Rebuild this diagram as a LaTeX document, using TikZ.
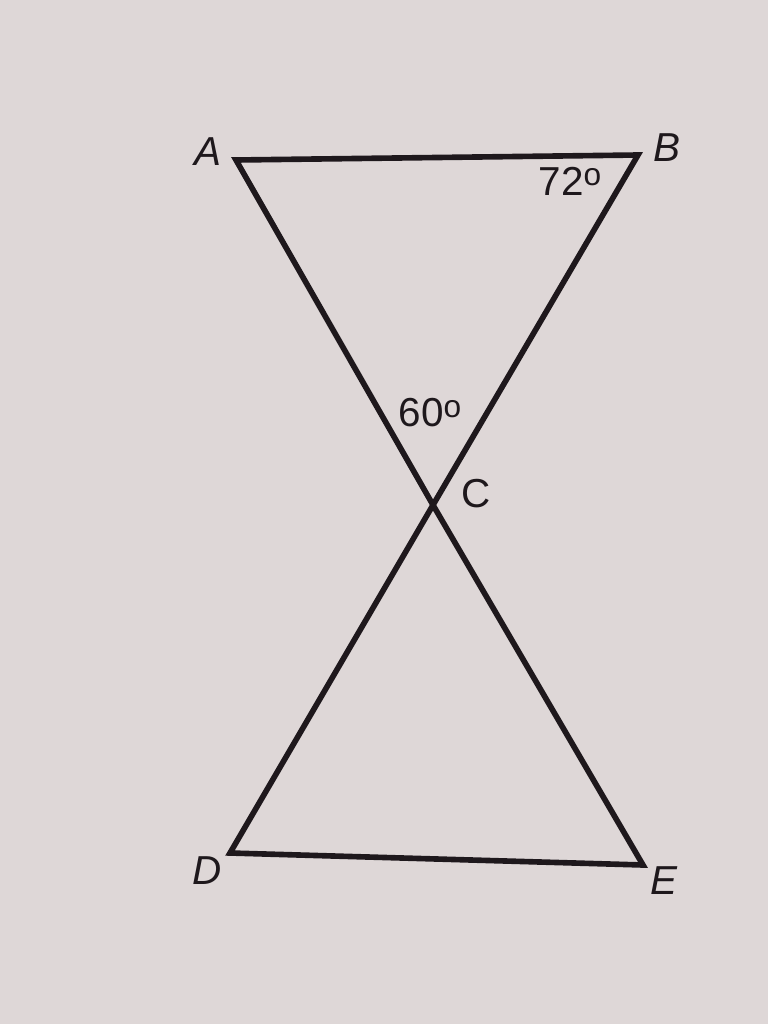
\documentclass[tikz,border=0pt]{standalone}
\usepackage{fontspec}
\setmainfont{Liberation Sans}
\definecolor{paper}{RGB}{222,215,215}
\definecolor{ink}{RGB}{30,24,28}
\newcommand{\dego}{\raisebox{0.45ex}{\fontsize{9}{9}\selectfont o}}
\begin{document}
\begin{tikzpicture}[x=0.01cm,y=-0.01cm,
  line width=1.6pt,
  pt label/.style={font=\fontsize{11.5}{13}\selectfont\itshape,text=ink,inner sep=0pt},
  ang label/.style={font=\fontsize{11.5}{13}\selectfont,text=ink,inner sep=0pt}]

  \fill[paper] (0,0) rectangle (768,1024);
  \useasboundingbox (0,0) rectangle (768,1024);

  \coordinate (A) at (236,160);
  \coordinate (B) at (638,155);
  \coordinate (C) at (433,505);
  \coordinate (D) at (230,853);
  \coordinate (E) at (643,865);

  \node[pt label] (lA) at (208,152) {A};
  \node[pt label] (lB) at (667,148) {B};
  \node[ang label] (lC) at (476,494) {C};
  \node[pt label] (lD) at (207,871) {D};
  \node[pt label] (lE) at (664,881) {E};
  \node[ang label] (a72) at (570,181) {72\dego};
  \node[ang label] (a60) at (430,413) {60\dego};

  \draw[ink,line join=miter] (C) -- (A) -- (B) -- cycle;
  \draw[ink,line join=miter] (C) -- (D) -- (E) -- cycle;
\end{tikzpicture}
\end{document}
